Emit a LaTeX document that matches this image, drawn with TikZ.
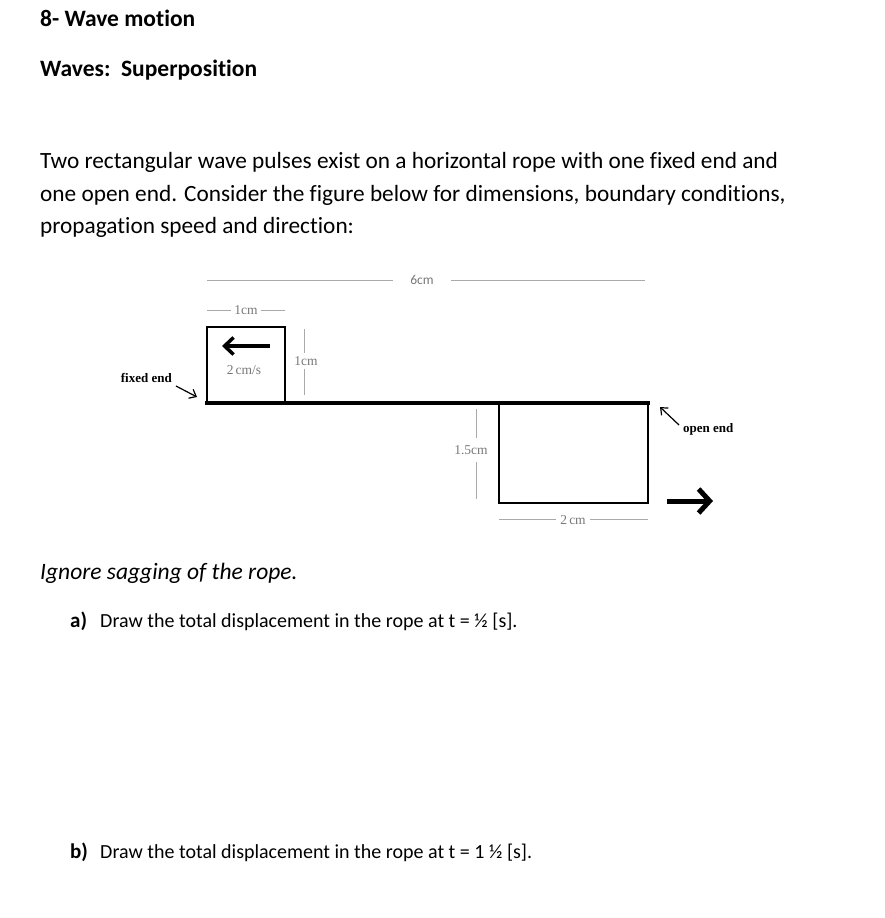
\documentclass[tikz,border=0pt]{standalone}
\usepackage{fontspec}
\setmainfont{Carlito}[Ligatures=NoCommon]
\newfontfamily\timesf{Liberation Serif}
\usetikzlibrary{arrows.meta}
\definecolor{dimline}{RGB}{170,170,170}
\definecolor{dimtext}{RGB}{120,120,120}
\begin{document}
\begin{tikzpicture}[x=1pt,y=-1pt,
  head/.style={font=\bfseries\fontsize{23.5}{28}\selectfont, anchor=base west, inner sep=0},
  body/.style={font=\fontsize{23.3}{28}\selectfont, anchor=base west, inner sep=0},
  qtext/.style={font=\fontsize{20}{24}\selectfont, anchor=base west, inner sep=0},
  dim/.style={draw=dimline, line width=1pt},
  dimlbl/.style={font=\timesf\fontsize{13.5}{13.5}\selectfont, text=dimtext, inner sep=0},
  callbl/.style={font=\fontsize{13.5}{13.5}\selectfont, text=dimtext, inner sep=0},
  endlbl/.style={font=\timesf\bfseries\fontsize{13}{13}\selectfont, inner sep=0},
  pulse/.style={draw=black, line width=1.6pt, inner sep=0, outer sep=0},
  rope/.style={line width=4pt},
  bigarrow/.style={line width=3.5pt, -{Straight Barb[length=9pt, width=17pt, line width=3.5pt]}},
  hugearrow/.style={line width=5pt, -{Straight Barb[length=11pt, width=24pt, line width=5pt]}},
  thinarrow/.style={line width=1.2pt, -{Straight Barb[length=6pt, width=10pt]}}
]
\useasboundingbox (0,0) rectangle (884,918);

% text
\node[head] (h1) at (40,26) {8- Wave motion};
\node[head] (h2) at (40,76) {Waves:\ \ Superposition};
\node[body] (p1) at (40,168) {Two rectangular wave pulses exist on a horizontal rope with one fixed end and};
\node[body] (p2) at (40,201) {one open end. Consider the figure below for dimensions, boundary conditions,};
\node[body] (p3) at (40,233) {propagation speed and direction:};
\node[body, font=\itshape\fontsize{23.5}{28}\selectfont] (ign) at (40,579) {Ignore sagging of the rope.};
\node[body, font=\bfseries\fontsize{21}{24}\selectfont] (qa) at (70,627) {a)};
\node[qtext] (qat) at (100,627) {Draw the total displacement in the rope at t = ½ [s].};
\node[body, font=\bfseries\fontsize{21}{24}\selectfont] (qb) at (70,858) {b)};
\node[qtext] (qbt) at (100,858) {Draw the total displacement in the rope at t = 1 ½ [s].};

% pulses and rope
\node[pulse, draw, minimum width=78pt, minimum height=76pt, anchor=south west] (lbox) at (207,403) {};
\node[pulse, draw, minimum width=149pt, minimum height=100pt, anchor=north west] (rbox) at (499,403) {};
\coordinate (ropeL) at (205,403);
\coordinate (ropeR) at (650,403);
\draw[rope] (ropeL) -- (ropeR);

% 6cm dimension
\node[callbl, inner xsep=17pt] (six) at (422,280) {6cm};
\coordinate (sixA) at (207,280);
\coordinate (sixB) at (645,280);
\draw[dim] (sixA) -- (six);
\draw[dim] (six) -- (sixB);

% top 1cm dimension
\node[dimlbl, inner xsep=3pt] (onecmT) at (246,310) {1cm};
\coordinate (oneA) at (207,310);
\coordinate (oneB) at (285,310);
\draw[dim] (oneA) -- (onecmT.west);
\draw[dim] (onecmT.east) -- (oneB);

% vertical 1cm dimension
\node[dimlbl, fill=white, inner ysep=3pt, inner xsep=0pt] (onecmV) at (306,361) {1cm};
\coordinate (ovA) at (304,329);
\coordinate (ovB) at (304,395);
\draw[dim] (ovA) -- (ovA |- onecmV.north);
\draw[dim] (ovB |- onecmV.south) -- (ovB);

% speed arrow
\coordinate (spA) at (270,346);
\coordinate (spB) at (222,346);
\draw[bigarrow] (spA) -- (spB);
\node[dimlbl] (speed) at (244,370) {2\,cm/s};

% fixed end
\node[endlbl, anchor=base east] (fixed) at (172,382) {fixed end};
\coordinate (fxA) at (176,386);
\coordinate (fxB) at (197,397);
\draw[thinarrow] (fxA) -- (fxB);

% 1.5cm dimension
\node[dimlbl, inner ysep=7pt] (onefive) at (471,450) {1.5cm};
\coordinate (ofA) at (476,409);
\coordinate (ofB) at (476,499);
\draw[dim] (ofA) -- (ofA |- onefive.north);
\draw[dim] (ofB |- onefive.south) -- (ofB);

% 2cm dimension
\node[dimlbl, inner xsep=4pt] (twocm) at (573,520) {2\,cm};
\coordinate (twA) at (499,519);
\coordinate (twB) at (648,519);
\draw[dim] (twA) -- (twA -| twocm.west);
\draw[dim] (twB -| twocm.east) -- (twB);

% open end
\node[endlbl, anchor=base west] (open) at (683,432) {open end};
\coordinate (opA) at (679,425);
\coordinate (opB) at (660,407);
\draw[thinarrow] (opA) -- (opB);

% direction arrow
\coordinate (drA) at (667,501);
\coordinate (drB) at (713,501);
\draw[hugearrow] (drA) -- (drB);
\end{tikzpicture}
\end{document}
